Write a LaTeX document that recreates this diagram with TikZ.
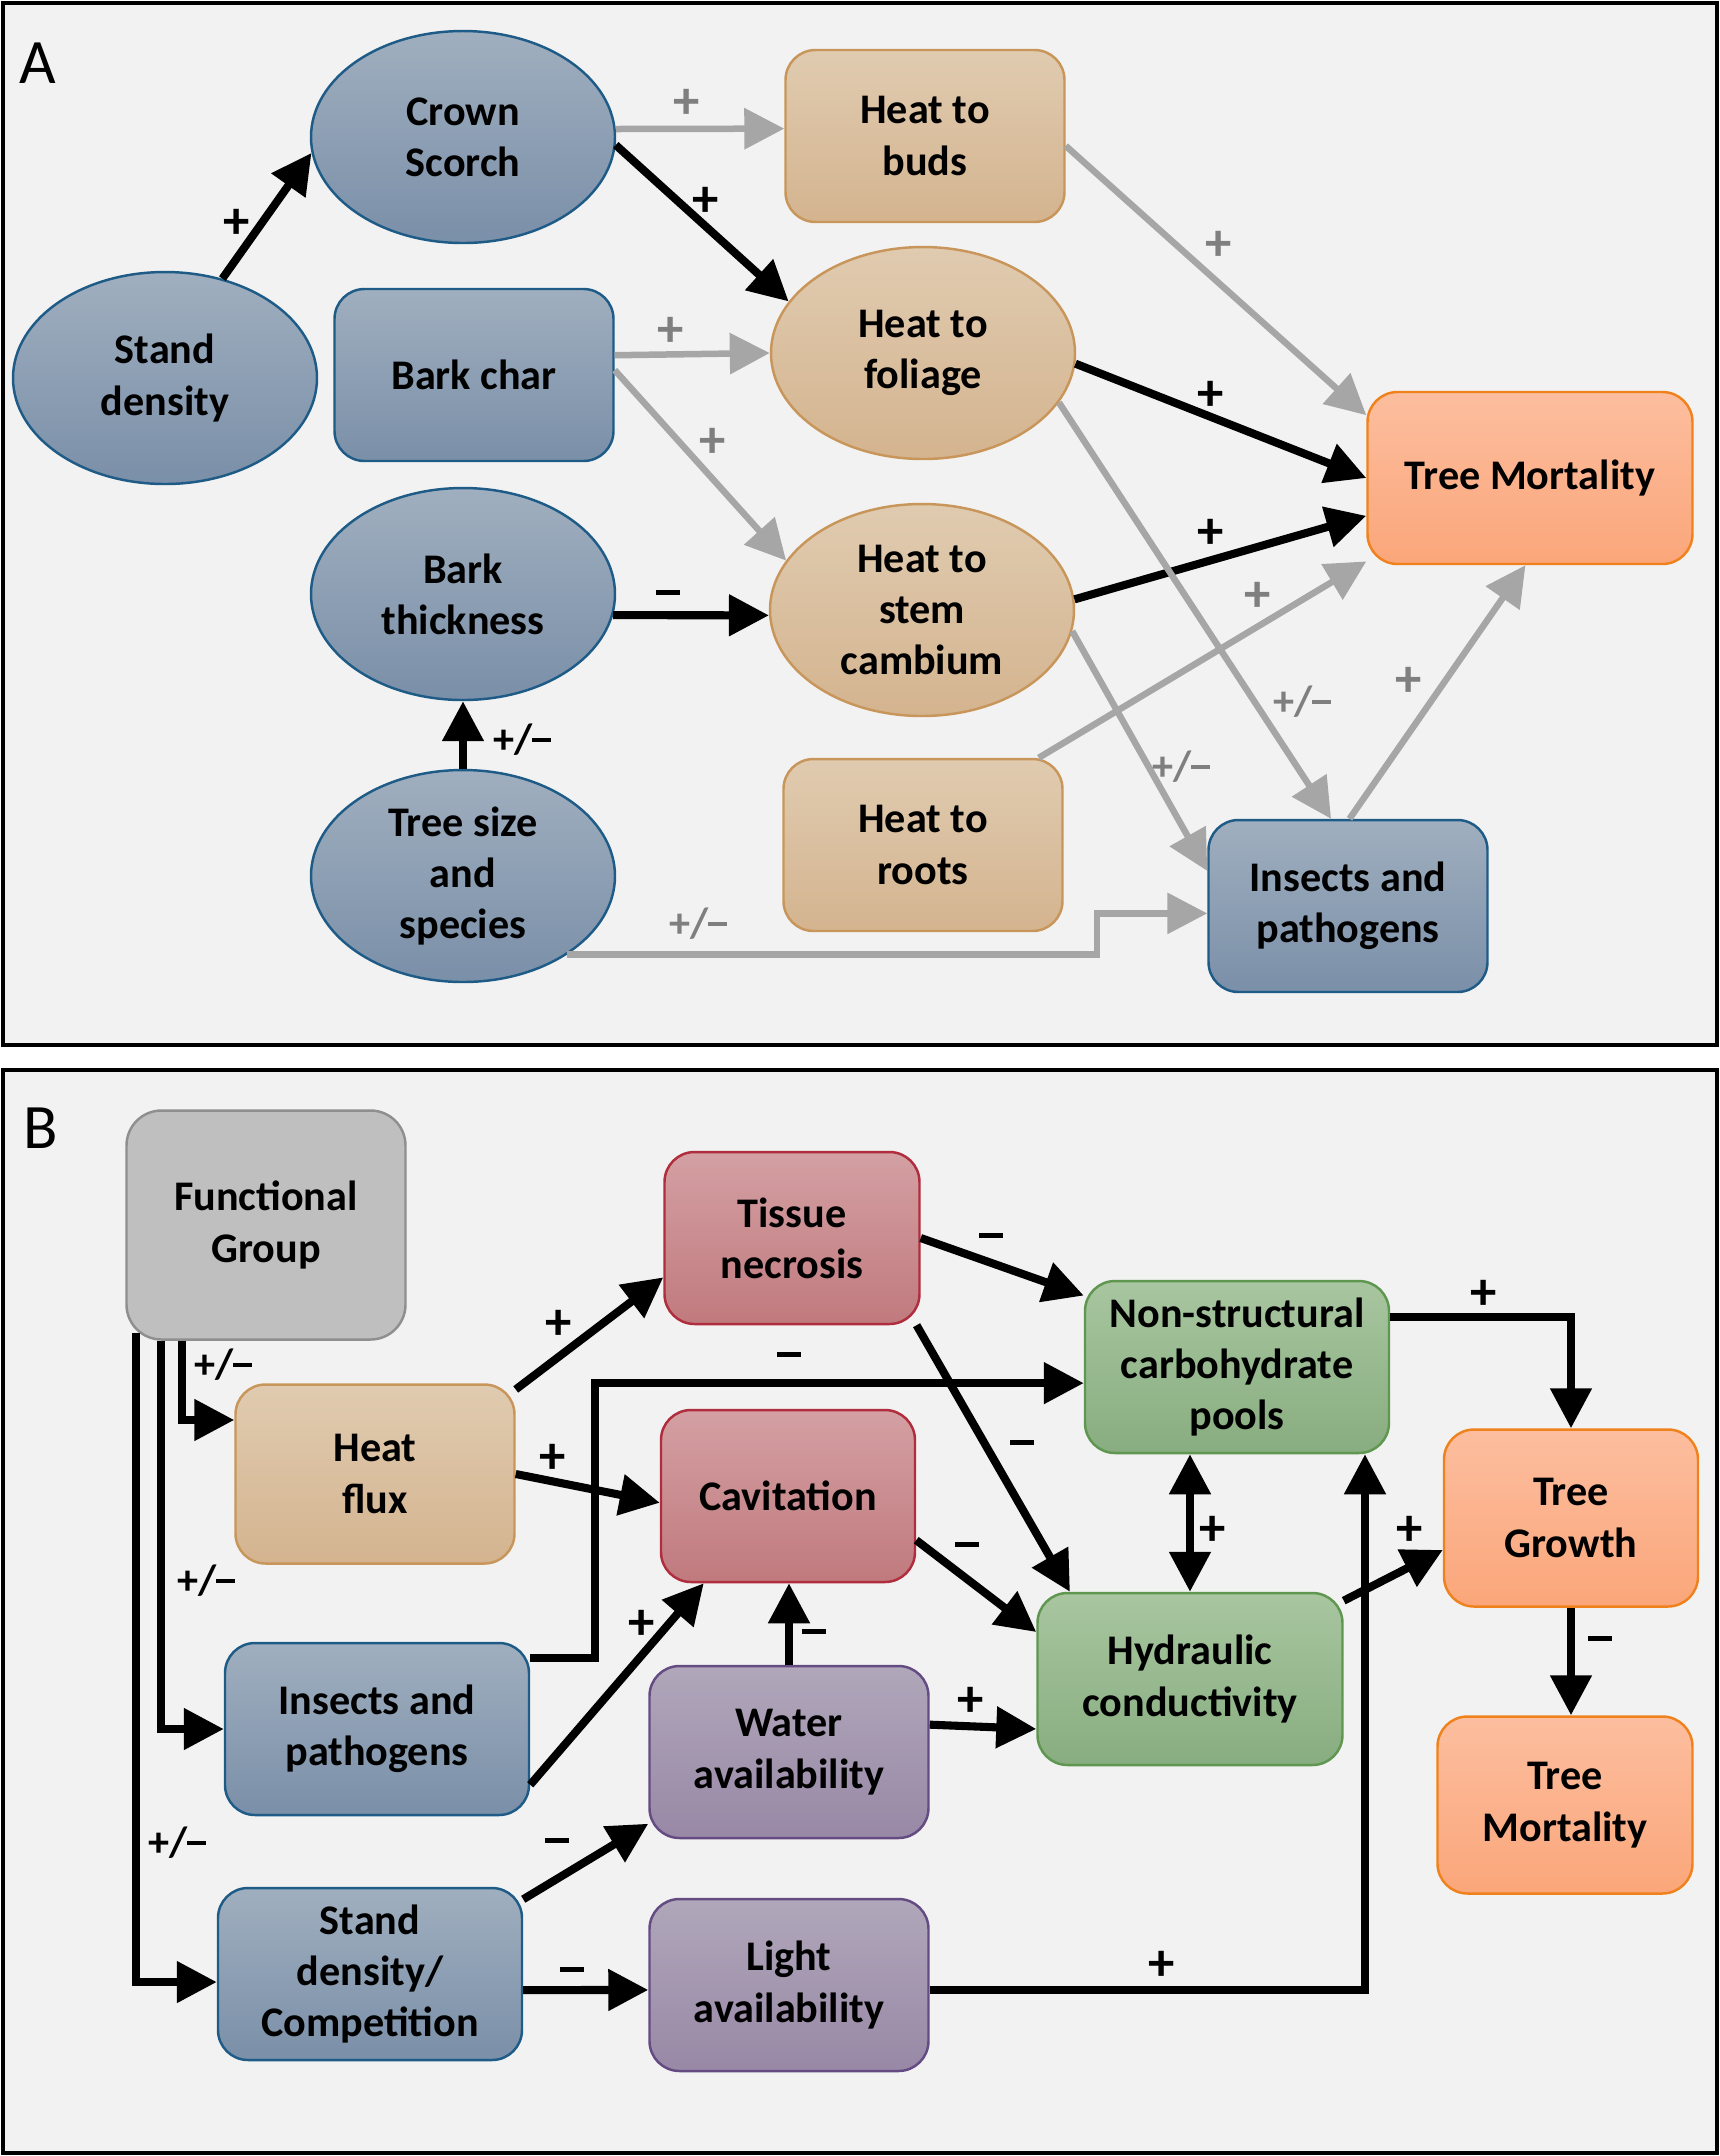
\documentclass[tikz,border=0pt]{standalone}
\usepackage{fontspec}
\setmainfont{Carlito}
\usepackage{tikz}
\usetikzlibrary{arrows.meta,shapes.geometric}

\definecolor{panelbg}{HTML}{F2F2F2}
\definecolor{bluetop}{HTML}{A0AFBF}
\definecolor{bluebot}{HTML}{7A8FA8}
\definecolor{blueline}{HTML}{1F5B87}
\definecolor{tantop}{HTML}{E0CBB0}
\definecolor{tanbot}{HTML}{D4B48F}
\definecolor{tanline}{HTML}{C8965A}
\definecolor{orgtop}{HTML}{FCBE9F}
\definecolor{orgbot}{HTML}{FBA67A}
\definecolor{orgline}{HTML}{F0821E}
\definecolor{greybox}{HTML}{BFBFBF}
\definecolor{greyline}{HTML}{8F8F8F}
\definecolor{redtop}{HTML}{D4A0A3}
\definecolor{redbot}{HTML}{C07A7E}
\definecolor{redline}{HTML}{AF2D3C}
\definecolor{purtop}{HTML}{B0A7BA}
\definecolor{purbot}{HTML}{9888A6}
\definecolor{purline}{HTML}{644B82}
\definecolor{grntop}{HTML}{A8C6A0}
\definecolor{grnbot}{HTML}{88AD80}
\definecolor{grnline}{HTML}{5F9650}
\definecolor{arrgrey}{HTML}{A6A6A6}
\definecolor{labgrey}{HTML}{7F7F7F}

\newcommand{\diafont}{\fontsize{12pt}{14.6pt}\selectfont\bfseries}
\newcommand{\mn}{\rule[0.29em]{0.44em}{0.085em}}

\tikzset{
 frame/.style={draw=black,line width=1pt,fill=panelbg},
 panel/.style={font=\fontsize{18pt}{20pt}\selectfont,inner sep=0pt},
 box/.style={draw,line width=0.7pt,rounded corners=3mm,align=center,inner sep=0pt,
   minimum width=27.9mm,minimum height=17.2mm,font=\diafont},
 ell/.style={ellipse,draw,line width=0.7pt,align=center,inner sep=0pt,
   minimum width=30.4mm,minimum height=21.2mm,font=\diafont},
 bluenode/.style={draw=blueline,top color=bluetop,bottom color=bluebot},
 tannode/.style={draw=tanline,top color=tantop,bottom color=tanbot},
 orangenode/.style={draw=orgline,top color=orgtop,bottom color=orgbot},
 greynode/.style={draw=greyline,fill=greybox},
 rednode/.style={draw=redline,top color=redtop,bottom color=redbot},
 purplenode/.style={draw=purline,top color=purtop,bottom color=purbot},
 greennode/.style={draw=grnline,top color=grntop,bottom color=grnbot},
 blk/.style={->,line width=2.3pt,black},
 gry/.style={->,line width=1.85pt,arrgrey},
 sgn/.style={font=\fontsize{15pt}{17pt}\selectfont\bfseries,inner sep=0pt},
 pm/.style={font=\diafont,inner sep=0pt},
 gsgn/.style={sgn,text=labgrey},
 gpm/.style={pm,text=labgrey}
}

\begin{document}
\begin{tikzpicture}[x=0.1mm,y=-0.1mm,>={Triangle[length=4mm,width=4mm]}]
 \useasboundingbox (0,0) rectangle (1720,2156);
 % panels
 \draw[frame] (3,3) rectangle (1717,1045);
 \draw[frame] (3,1070) rectangle (1717,2153);
 \node[panel] (pA) at (38,63) {A};
 \node[panel] (pB) at (41,1128) {B};

 % A: fire effects
 \node[ell,bluenode] (sd) at (165,378) {Stand\\density};
 \node[ell,bluenode] (cs) at (463,137) {Crown\\Scorch};
 \node[box,bluenode] (bc) at (474,375) {Bark char};
 \node[ell,bluenode] (bt) at (463,594) {Bark\\thickness};
 \node[ell,bluenode] (ts) at (463,876) {Tree size\\and\\species};
 \node[box,tannode] (hb) at (925,136) {Heat to\\buds};
 \node[ell,tannode] (hf) at (923,353) {Heat to\\foliage};
 \node[ell,tannode] (hs) at (922,610) {Heat to\\stem\\cambium};
 \node[box,tannode] (hr) at (923,845) {Heat to\\roots};
 \node[box,orangenode,minimum width=32.5mm] (tmA) at (1530,478) {Tree Mortality};
 \node[box,bluenode] (ipA) at (1348,906) {Insects and\\pathogens};
 \coordinate (tsbend) at (1097,953);

 % A: links
 \draw[blk] (sd.60) -- (cs.186);
 \draw[gry] (cs.3) -- (hb.177);
 \draw[blk] (cs.-3) -- (hf.159);
 \draw[gry] (bc.8) -- (hf.180);
 \draw[gry] (bc.2) -- (hs.160);
 \draw[blk] (bt.-8) -- (hs.182);
 \draw[blk] (ts.90) -- (bt.270);
 \draw[gry] (ts.-37) -| (tsbend |- ipA.183) -- (ipA.183);
 \draw[gry] (hb.-4) -- (tmA.159);
 \draw[blk] (hf.-4) -- (tmA.180);
 \draw[blk] (hs.4) -- (tmA.193);
 \draw[gry] (hf.-20) -- (ipA.101);
 \draw[gry] (hs.-8) -- (ipA.166);
 \draw[gry] (hr.37) -- (tmA.207);
 \draw[gry] (ipA.89) -- (tmA.267);

 % A: signs
 \node[sgn] (a1) at (237,224) {+};
 \node[gsgn] (a2) at (687,104) {+};
 \node[sgn] (a3) at (706,202) {+};
 \node[gsgn] (a4) at (671,332) {+};
 \node[gsgn] (a5) at (713,443) {+};
 \node[sgn] (a6) at (668,600) {\mn};
 \node[pm] (a7) at (522,740) {+/\mn};
 \node[gpm] (a8) at (698,924) {+/\mn};
 \node[gsgn] (a9) at (1219,246) {+};
 \node[sgn] (a10) at (1211,396) {+};
 \node[sgn] (a11) at (1211,534) {+};
 \node[gpm] (a12) at (1302,702) {+/\mn};
 \node[gpm] (a13) at (1181,767) {+/\mn};
 \node[gsgn] (a14) at (1258,597) {+};
 \node[gsgn] (a15) at (1409,682) {+};

 % B: growth pathways
 \node[box,greynode,minimum height=22.9mm,rounded corners=3.5mm] (fg) at (266,1225) {Functional\\Group};
 \node[box,rednode,minimum width=25.5mm] (tn) at (792,1238) {Tissue\\necrosis};
 \node[box,tannode,minimum height=17.9mm] (hx) at (375,1474) {Heat\\flux};
 \node[box,rednode,minimum width=25.4mm] (cav) at (788,1496) {Cavitation};
 \node[box,bluenode,minimum width=30.4mm] (ipB) at (377,1729) {Insects and\\pathogens};
 \node[box,purplenode] (wa) at (789,1752) {Water\\availability};
 \node[box,bluenode,minimum width=30.4mm] (sdc) at (370,1974) {Stand\\density/\\Competition};
 \node[box,purplenode] (la) at (789,1985) {Light\\availability};
 \node[box,greennode,minimum width=30.4mm] (nsc) at (1237,1367) {Non-structural\\carbohydrate\\pools};
 \node[box,greennode,minimum width=30.5mm] (hc) at (1190,1679) {Hydraulic\\conductivity};
 \node[box,orangenode,minimum width=25.4mm,minimum height=17.7mm] (tg) at (1571,1518) {Tree\\Growth};
 \node[box,orangenode,minimum width=25.5mm,minimum height=17.7mm] (tmB) at (1565,1805) {Tree\\Mortality};
 \coordinate (fbend) at (595,1500);

 % B: links
 \draw[blk] ([xshift=-8.4mm]fg.south) |- (hx.159);
 \draw[blk] ([xshift=-10.5mm]fg.south) |- (ipB.west);
 \draw[blk] ([xshift=-13mm,yshift=0.8mm]fg.south) |- (sdc.183);
 \draw[blk] (hx.31) -- (tn.197);
 \draw[blk] (hx.east) -- (cav.183);
 \draw[blk] (ipB.25) -| (fbend |- nsc.186) -- (nsc.186);
 \draw[blk] (ipB.-20) -- (cav.226);
 \draw[blk] (wa.north) -- (wa.north |- cav.south);
 \draw[blk] (sdc.26) -- (wa.207);
 \draw[blk] (sdc.-6) -- (la.182);
 \draw[blk] (tn.east) -- (nsc.155);
 \draw[blk] (tn.-35) -- (hc.144);
 \draw[blk] (cav.-19) -- (hc.163);
 \draw[blk] (wa.11) -- (hc.198);
 \draw[blk,<->] (hc.north) -- (hc.north |- nsc.south);
 \draw[blk] (hc.27) -- (tg.194);
 \draw[blk] (nsc.18) -| (tg.north);
 \draw[blk] (tg.south) -- (tg.south |- tmB.north);
 \draw[blk] (la.-2) -| ([xshift=12.8mm]nsc.south);

 % B: signs
 \node[pm] (b1) at (223,1365) {+/\mn};
 \node[pm] (b2) at (206,1581) {+/\mn};
 \node[pm] (b3) at (177,1843) {+/\mn};
 \node[sgn] (b4) at (559,1325) {+};
 \node[sgn] (b5) at (553,1459) {+};
 \node[sgn] (b6) at (789,1362) {\mn};
 \node[sgn] (b7) at (642,1625) {+};
 \node[sgn] (b8) at (814,1639) {\mn};
 \node[sgn] (b9) at (557,1848) {\mn};
 \node[sgn] (b10) at (572,1977) {\mn};
 \node[sgn] (b11) at (991,1243) {\mn};
 \node[sgn] (b12) at (1022,1450) {\mn};
 \node[sgn] (b13) at (967,1552) {\mn};
 \node[sgn] (b14) at (971,1702) {+};
 \node[sgn] (b15) at (1213,1531) {+};
 \node[sgn] (b16) at (1410,1531) {+};
 \node[sgn] (b17) at (1484,1295) {+};
 \node[sgn] (b18) at (1600,1646) {\mn};
 \node[sgn] (b19) at (1162,1966) {+};
\end{tikzpicture}
\end{document}
